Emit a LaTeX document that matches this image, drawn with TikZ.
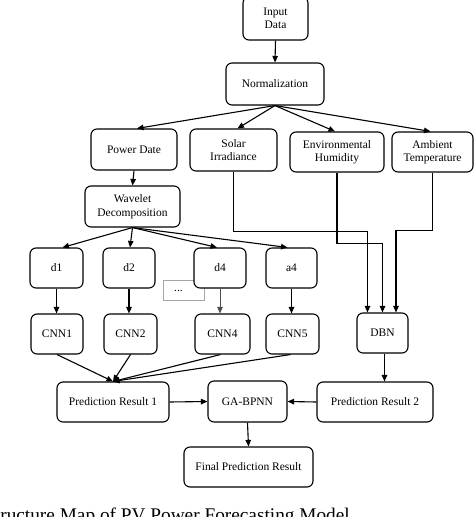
\documentclass[tikz,border=0pt]{standalone}
\usepackage{fontspec}
\setmainfont{Liberation Serif}
\usetikzlibrary{arrows.meta}
\begin{document}
\begin{tikzpicture}[x=1pt,y=-1pt,
  bx/.style={draw,rounded corners=6pt,line width=1.1pt,fill=white,align=center,inner sep=0pt,
    font=\fontsize{11.5}{13.5}\selectfont},
  arr/.style={line width=1.1pt,-{Triangle[length=6.5pt,width=5.5pt]}},
  ln/.style={line width=1.1pt}]
\clip (0,0) rectangle (474,517);
\useasboundingbox (0,0) rectangle (474,517);
% nodes
\node[bx,minimum width=65pt,minimum height=43pt] (inp) at (275.5,18.5) {Input\\Data};
\node[bx,minimum width=98pt,minimum height=42pt] (norm) at (275,84) {Normalization};
\node[bx,minimum width=86pt,minimum height=41pt] (pd) at (134,149.5) {Power Date};
\node[bx,minimum width=87pt,minimum height=42pt] (sol) at (233.5,150) {Solar\\Irradiance};
\node[bx,minimum width=94pt,minimum height=40pt] (env) at (337,152) {Environmental\\Humidity};
\node[bx,minimum width=81pt,minimum height=40pt] (amb) at (432.5,152) {Ambient\\Temperature};
\node[bx,minimum width=95pt,minimum height=41pt] (wav) at (132.5,206.5) {Wavelet\\Decomposition};
\node[draw=black!35,line width=0.7pt,minimum width=41pt,minimum height=20pt,inner sep=0pt,
  font=\fontsize{11.5}{13.5}\selectfont] (dots) at (183.5,290) {\hspace*{-10pt}\raisebox{-4pt}{...}};
\node[bx,minimum width=53pt,minimum height=40pt] (d1) at (56.5,268) {d1};
\node[bx,minimum width=52pt,minimum height=40pt] (d2) at (129,268) {d2};
\node[bx,minimum width=52pt,minimum height=40pt] (d4) at (220,268) {d4};
\node[bx,minimum width=51pt,minimum height=40pt] (a4) at (291.5,268) {a4};
\node[bx,minimum width=52pt,minimum height=40pt] (c1) at (57,334) {CNN1};
\node[bx,minimum width=53pt,minimum height=40pt] (c2) at (130.5,334) {CNN2};
\node[bx,minimum width=55pt,minimum height=40pt] (c4) at (222.5,334) {CNN4};
\node[bx,minimum width=53pt,minimum height=40pt] (c5) at (292.5,334) {CNN5};
\node[bx,minimum width=51pt,minimum height=40pt] (dbn) at (382.5,333) {DBN};
\node[bx,minimum width=112pt,minimum height=40pt] (pr1) at (113,402) {Prediction Result 1};
\node[bx,minimum width=79pt,minimum height=41pt] (ga) at (247.5,401.5) {GA-BPNN};
\node[bx,minimum width=116pt,minimum height=40pt] (pr2) at (375,402) {Prediction Result 2};
\node[bx,minimum width=129pt,minimum height=40pt] (fin) at (248.5,467) {Final Prediction Result};
% connectors
\draw[arr] (inp.south) -- (norm.north);
\draw[arr] (norm.south) -- ([xshift=3pt]pd.north);
\draw[arr] (norm.south) -- ([xshift=4pt]sol.north);
\draw[arr] (norm.south) -- ([xshift=-2pt]env.north);
\draw[arr] (norm.south) -- ([xshift=-2pt]amb.north);
\draw[arr] (pd.south) -- (wav.north);
\draw[arr] (wav.south) -- ([xshift=6pt]d1.north);
\draw[arr] (wav.south) -- ([xshift=1pt]d2.north);
\draw[arr] (wav.south) -- ([xshift=-3pt]d4.north);
\draw[arr] (wav.south) -- ([xshift=-4pt]a4.north);
\draw[arr] (d1.south) -- (d1.south |- c1.north);
\draw[arr] (d2.south) -- (d2.south |- c2.north);
\draw[arr,line width=0.8pt,black!70] (d4.south) -- (d4.south |- c4.north);
\draw[arr] (a4.south) -- (a4.south |- c5.north);
\draw[arr] (sol.south) -- ++(0,60) -| ([xshift=-15pt]dbn.north);
\draw[arr] (env.south) -- ++(0,71) -| (dbn.north);
\draw[arr] (amb.south) -- ++(0,58) -| ([xshift=13.5pt]dbn.north);
\draw[arr] (c1.south) -- (pr1.north);
\draw[arr] (c2.south) -- (pr1.north);
\draw[arr] ([xshift=-2pt]c4.south) -- (pr1.north);
\draw[arr] ([xshift=-2pt]c5.south) -- (pr1.north);
\draw[arr] ([xshift=2pt]dbn.south) -- ([xshift=2pt]dbn.south |- pr2.north);
\draw[arr] (pr1.east) -- (ga.west);
\draw[arr] (pr2.west) -- (ga.east);
\draw[arr] (ga.south) -- (fin.north);
% caption (cut by the frame)
\node[anchor=base east,inner sep=0pt,font=\fontsize{19.3}{22}\selectfont] (cap) at (350,521) {Structure Map of PV Power Forecasting Model};
\end{tikzpicture}
\end{document}
